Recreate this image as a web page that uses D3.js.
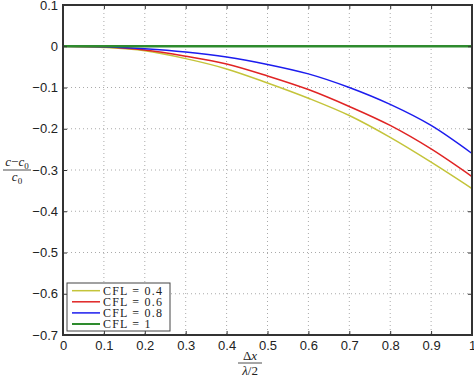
<!DOCTYPE html>
<html>
<head>
<meta charset="utf-8">
<script src="https://cdn.jsdelivr.net/npm/d3@7"></script>
<style>
  body { margin: 0; background: #fff; }
  svg text { font-family: "Liberation Sans", Arial, sans-serif; }
</style>
</head>
<body>
<script>
// data
var xs = [0, 0.1, 0.2, 0.3, 0.4, 0.5, 0.6, 0.7, 0.8, 0.9, 1.0];
var cfl04 = [0, -0.003, -0.011, -0.030, -0.055, -0.089, -0.126, -0.168, -0.221, -0.281, -0.345];
var cfl06 = [0, -0.002, -0.009, -0.024, -0.043, -0.072, -0.105, -0.146, -0.192, -0.249, -0.316];
var cfl08 = [0, -0.001, -0.006, -0.014, -0.026, -0.044, -0.067, -0.100, -0.141, -0.192, -0.260];
var cfl1  = [0, 0, 0, 0, 0, 0, 0, 0, 0, 0, 0];
var names = ["CFL = 0.4", "CFL = 0.6", "CFL = 0.8", "CFL = 1"];
var xTicks = [0, 0.1, 0.2, 0.3, 0.4, 0.5, 0.6, 0.7, 0.8, 0.9, 1];
var yTicks = [0.1, 0, -0.1, -0.2, -0.3, -0.4, -0.5, -0.6, -0.7];

var W = 474, H = 379;
var margin = {left: 63, right: 2, top: 5, bottom: 44};

var svg = d3.select("body").append("svg")
  .attr("width", W).attr("height", H);

var x = d3.scaleLinear().domain([0, 1]).range([margin.left, W - margin.right]);
var y = d3.scaleLinear().domain([-0.7, 0.1]).range([H - margin.bottom, margin.top]);

// grid
var grid = svg.append("g").attr("stroke", "#aaa").attr("stroke-dasharray", "1,3").attr("stroke-width", 1);
xTicks.slice(1, -1).forEach(function (t) {
  grid.append("line").attr("x1", x(t)).attr("x2", x(t)).attr("y1", y(0.1)).attr("y2", y(-0.7));
});
yTicks.slice(1, -1).forEach(function (t) {
  grid.append("line").attr("x1", x(0)).attr("x2", x(1)).attr("y1", y(t)).attr("y2", y(t));
});

// series
var series = [
  {vals: cfl04, color: "#c4c43a", w: 1.5},
  {vals: cfl06, color: "#e02424", w: 1.5},
  {vals: cfl08, color: "#1c1cee", w: 1.5},
  {vals: cfl1,  color: "#2e8b2e", w: 2.5}
];
var line = d3.line()
  .x(function (d) { return x(d[0]); })
  .y(function (d) { return y(d[1]); })
  .curve(d3.curveMonotoneX);
series.forEach(function (s) {
  svg.append("path")
    .datum(xs.map(function (v, i) { return [v, s.vals[i]]; }))
    .attr("fill", "none")
    .attr("stroke", s.color)
    .attr("stroke-width", s.w)
    .attr("d", line);
});

// axes: ticks inward on all sides
var tl = 4;
var axBottom = d3.axisBottom(x).tickValues(xTicks).tickSize(-tl).tickPadding(6)
  .tickFormat(function (d) { return d === 0 || d === 1 ? d3.format("d")(d) : d3.format(".1f")(d); });
var axLeft = d3.axisLeft(y).tickValues(yTicks).tickSize(-tl).tickPadding(5)
  .tickFormat(function (d) { return d === 0 ? "0" : d3.format(".1f")(d); });
var axTop = d3.axisTop(x).tickValues(xTicks).tickSize(-tl).tickFormat("");
var axRight = d3.axisRight(y).tickValues(yTicks).tickSize(-tl).tickFormat("");

function styleAxis(g) {
  g.select(".domain").remove();
  g.selectAll(".tick line").attr("stroke", "#333");
  g.selectAll("text").attr("fill", "#222").style("font-size", "13px");
}
svg.append("g").attr("transform", "translate(0," + y(-0.7) + ")").call(axBottom).call(styleAxis);
svg.append("g").attr("transform", "translate(" + x(0) + ",0)").call(axLeft).call(styleAxis);
svg.append("g").attr("transform", "translate(0," + y(0.1) + ")").call(axTop).call(styleAxis);
svg.append("g").attr("transform", "translate(" + x(1) + ",0)").call(axRight).call(styleAxis);

// frame
svg.append("rect")
  .attr("x", x(0)).attr("y", y(0.1))
  .attr("width", x(1) - x(0)).attr("height", y(-0.7) - y(0.1))
  .attr("fill", "none").attr("stroke", "#333").attr("stroke-width", 2);

// legend
var lg = svg.append("g").attr("transform", "translate(67,283)");
lg.append("rect").attr("width", 103).attr("height", 48)
  .attr("fill", "#fff").attr("stroke", "#444").attr("stroke-width", 1);
names.forEach(function (n, i) {
  var yy = 7.7 + i * 11.1;
  lg.append("line").attr("x1", 5).attr("x2", 33).attr("y1", yy).attr("y2", yy)
    .attr("stroke", series[i].color).attr("stroke-width", series[i].w === 2.5 ? 2 : 1.5);
  lg.append("text").attr("x", 36).attr("y", yy + 4.3)
    .style("font-family", "'Liberation Serif', 'DejaVu Serif', serif")
    .style("font-size", "12px").style("letter-spacing", "1.2px")
    .attr("fill", "#222").text(n);
});

// y label: (c - c0)/c0
var serif = "'Liberation Serif', 'DejaVu Serif', serif";
var yl = svg.append("g").attr("transform", "translate(17,170)");
var num = yl.append("text").attr("x", 0).attr("y", -4).attr("text-anchor", "middle")
  .style("font-family", serif).style("font-size", "13px").attr("fill", "#222");
num.append("tspan").style("font-style", "italic").text("c");
num.append("tspan").text("\u2212");
num.append("tspan").style("font-style", "italic").text("c");
num.append("tspan").attr("font-size", "9px").attr("dy", 3).text("0");
yl.append("line").attr("x1", -14).attr("x2", 14).attr("y1", 0).attr("y2", 0)
  .attr("stroke", "#222").attr("stroke-width", 0.8);
var den = yl.append("text").attr("x", 0).attr("y", 11).attr("text-anchor", "middle")
  .style("font-family", serif).style("font-size", "13px").attr("fill", "#222");
den.append("tspan").style("font-style", "italic").text("c");
den.append("tspan").attr("font-size", "9px").attr("dy", 3).text("0");

// x label: Δx/(λ/2)
var xl = svg.append("g").attr("transform", "translate(250,363)");
var xn = xl.append("text").attr("x", 0).attr("y", -3).attr("text-anchor", "middle")
  .style("font-family", serif).style("font-size", "13px").attr("fill", "#222");
xn.append("tspan").text("\u0394");
xn.append("tspan").style("font-style", "italic").text("x");
xl.append("line").attr("x1", -12).attr("x2", 12).attr("y1", 0).attr("y2", 0)
  .attr("stroke", "#222").attr("stroke-width", 0.8);
var xd = xl.append("text").attr("x", 0).attr("y", 12).attr("text-anchor", "middle")
  .style("font-family", serif).style("font-size", "13px").attr("fill", "#222");
xd.append("tspan").style("font-style", "italic").text("\u03bb");
xd.append("tspan").text("/2");
</script>
</body>
</html>
